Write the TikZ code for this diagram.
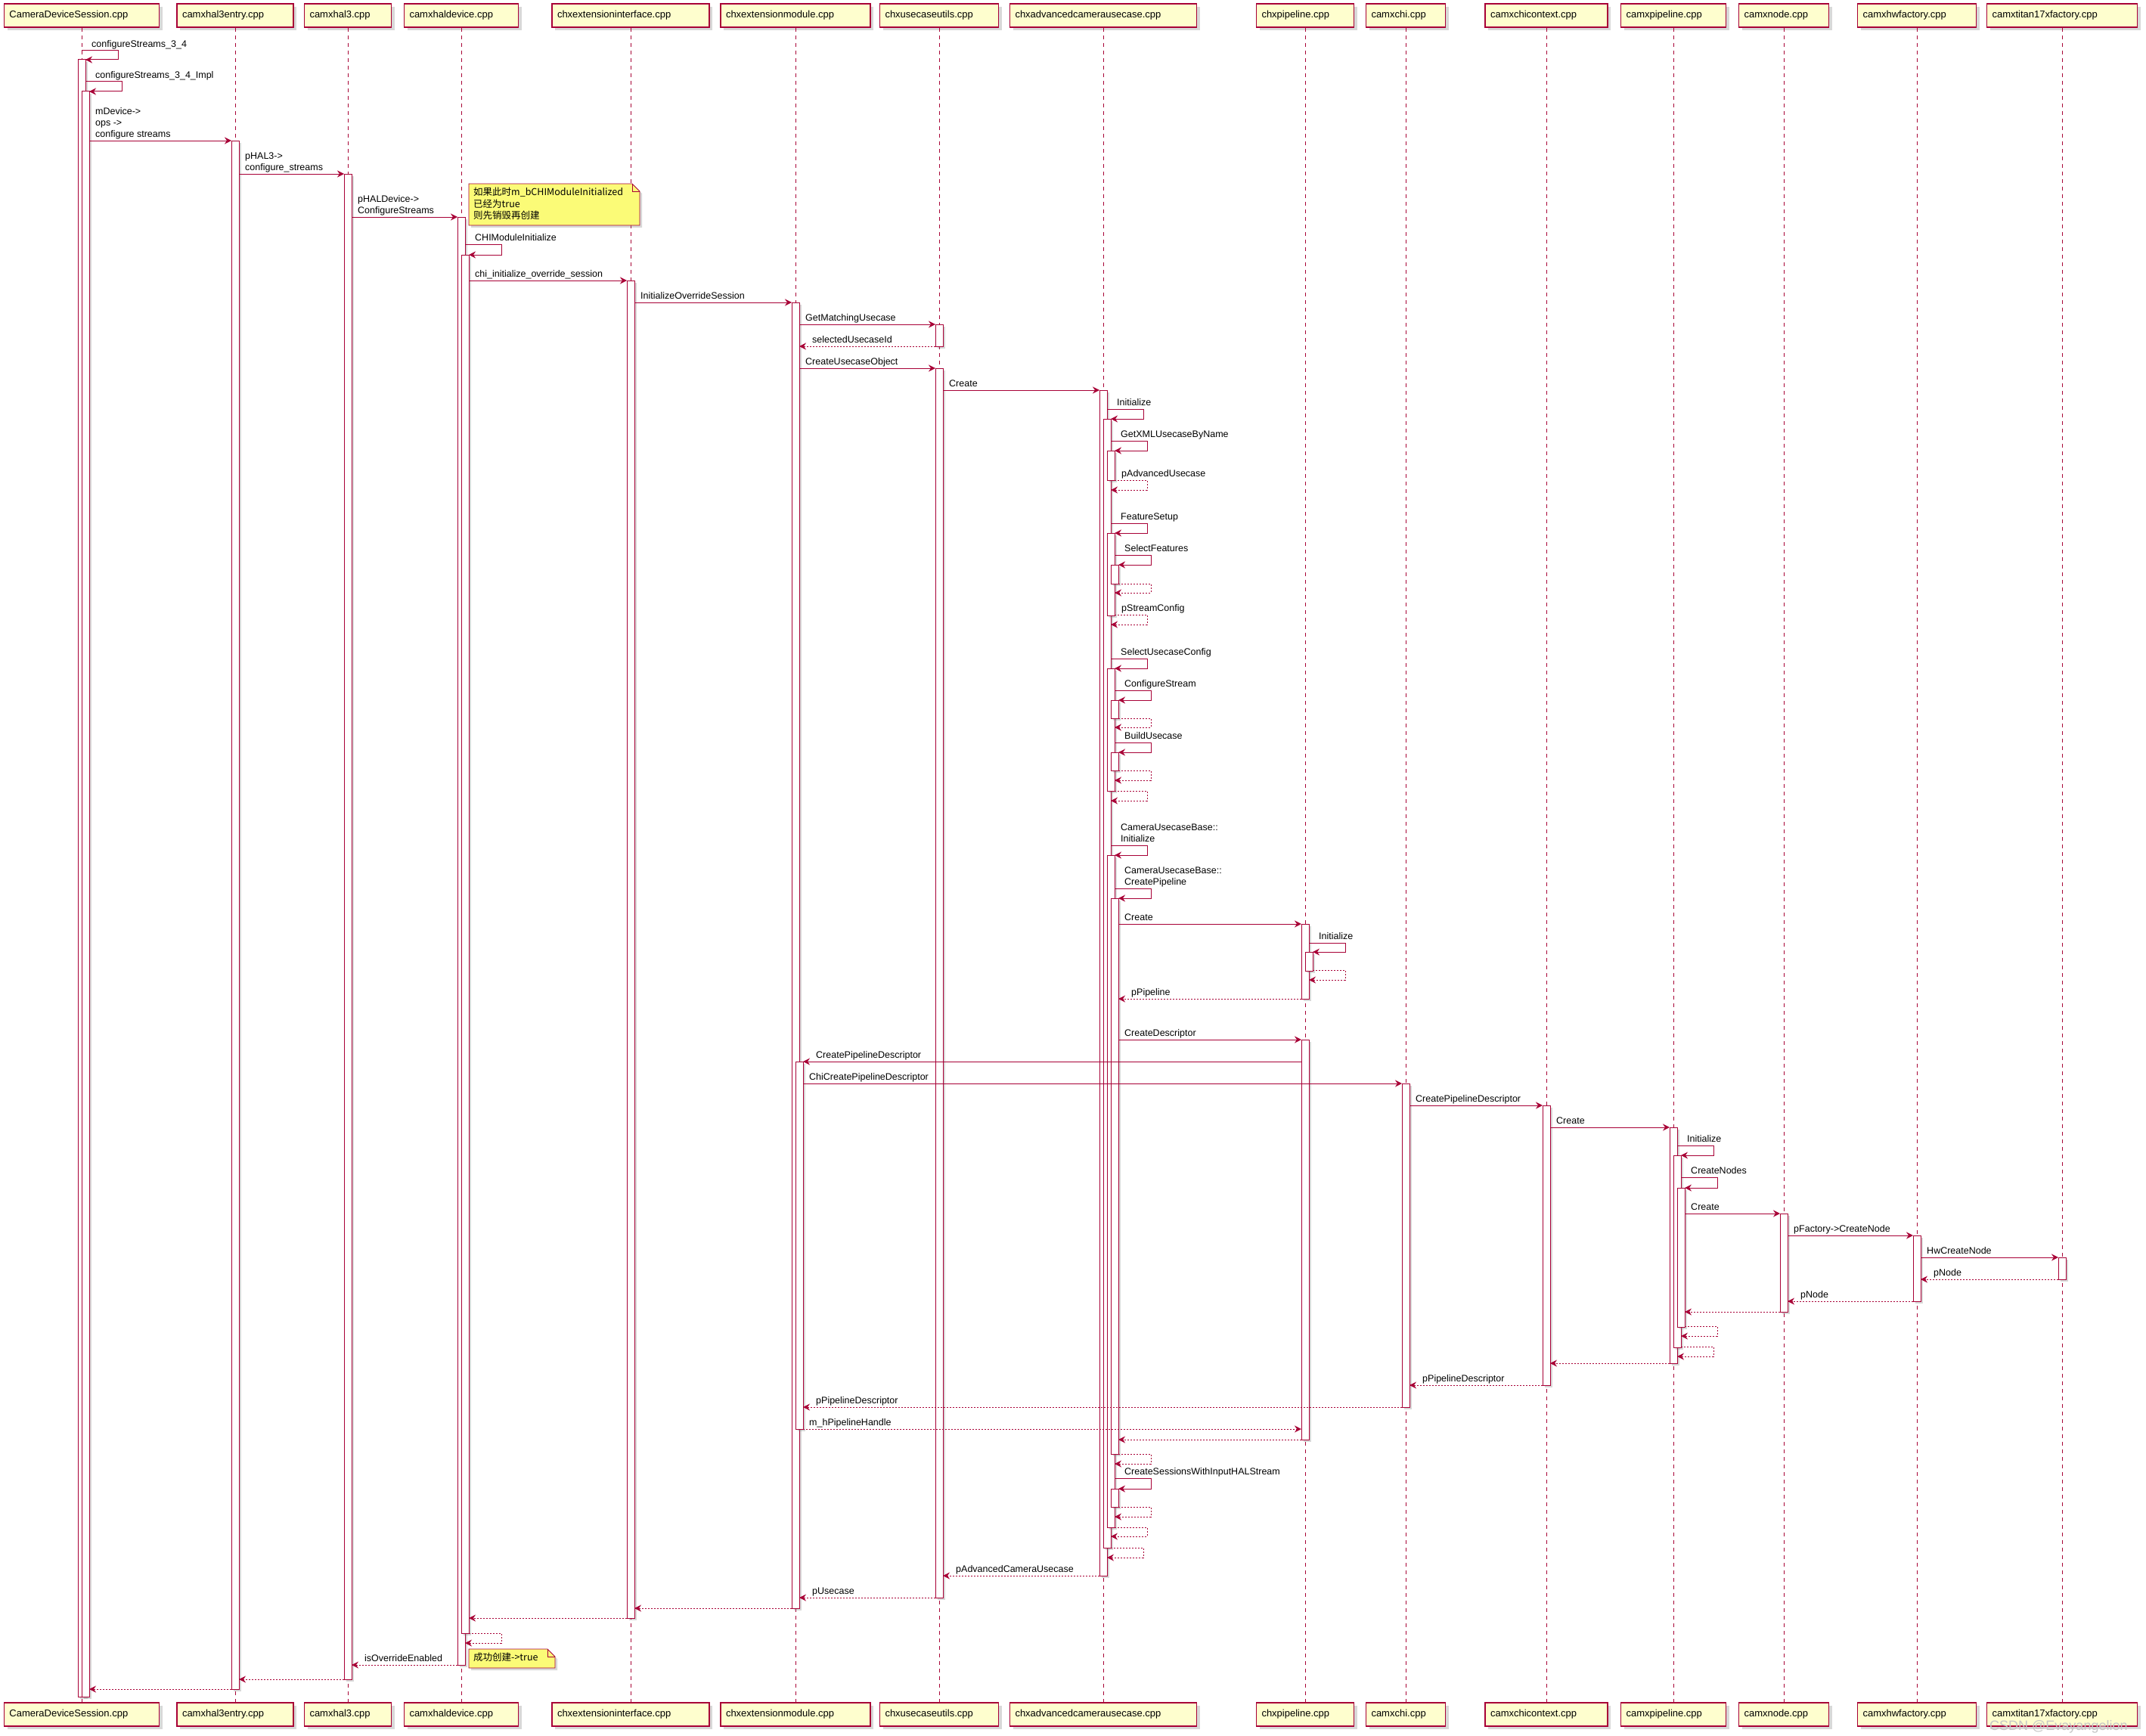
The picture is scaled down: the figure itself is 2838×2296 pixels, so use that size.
\documentclass[tikz,border=0pt]{standalone}
\usepackage{fontspec}
\setmainfont{Liberation Sans}
\newfontfamily\cjk{Noto Sans CJK SC}
\usepackage{tikz}
\usetikzlibrary{arrows.meta, calc, shadows, positioning}

\definecolor{umlred}{HTML}{A80036}
\definecolor{umlbox}{HTML}{FEFECE}
\definecolor{umlnote}{HTML}{FBFB77}

\tikzset{
  part/.style={draw=umlred, fill=umlbox, line width=1.5pt, minimum height=31pt,
    inner xsep=7pt, inner ysep=0pt, align=left, font=\fontsize{13}{15}\selectfont,
    drop shadow={shadow xshift=4pt, shadow yshift=-4pt, opacity=0.3}},
  lifeline/.style={draw=umlred, line width=0.8pt, dash pattern=on 5pt off 5pt},
  actbar/.style={draw=umlred, fill=white, line width=1pt,
    drop shadow={shadow xshift=3pt, shadow yshift=-3pt, opacity=0.3}},
  call/.style={draw=umlred, line width=1pt, -{Stealth[length=9pt, width=9pt, inset=3pt]}},
  ret/.style={call, dash pattern=on 2pt off 2pt},
  msglbl/.style={anchor=base west, inner sep=0pt, font=\fontsize{12.5}{15}\selectfont},
  notebg/.style={draw=umlred, fill=umlnote, line width=0.8pt,
    drop shadow={shadow xshift=3pt, shadow yshift=-3pt, opacity=0.3}},
  notetxt/.style={anchor=north west, inner sep=0pt, align=left, font=\cjk\fontsize{12.5}{15.5}\selectfont}
}

\newcounter{lblno}
\newcommand{\ml}[1]{\begin{tabular}[b]{@{}l@{}}#1\end{tabular}}
\newcommand{\msglabel}[2]{%
  \if\relax\detokenize{#2}\relax\else
    \stepcounter{lblno}%
    \node[msglbl] (lbl\arabic{lblno}) at (#1) {#2};%
  \fi}
% activation bar: lifeline, level, from, to
\newcommand{\act}[4]{%
  \draw[actbar] ($(#1 |- 0,#3)+({5*#2-10},0)$) rectangle ($(#1 |- 0,#4)+({5*#2},0)$);}
% message to the right / to the left
\newcommand{\msgR}[7][call]{%
  \draw[#1] ($(#3 |- 0,#2)+(#4,0)$) -- ($(#5 |- 0,#2)+(#6,0)$);
  \msglabel{$(#3 |- 0,#2)+(#4+8,-4.5)$}{#7}}
\newcommand{\msgL}[7][call]{%
  \draw[#1] ($(#3 |- 0,#2)+(#4,0)$) -- ($(#5 |- 0,#2)+(#6,0)$);
  \msglabel{$(#5 |- 0,#2)+(#6+17,-4.5)$}{#7}}
% self messages
\newcommand{\selfcall}[8][call]{%
  \draw[#1] ($(#2 |- 0,#3)+(#5,0)$) -| ($(#2 |- 0,#4)+(#6,0)$) -- ($(#2 |- 0,#4)+(#7,0)$);
  \msglabel{$(#2 |- 0,#3)+(#5+13,-4.5)$}{#8}}
\newcommand{\selfret}[8][ret]{%
  \draw[#1] ($(#2 |- 0,#3)+(#5,0)$) -| ($(#2 |- 0,#4)+(#6,0)$) -- ($(#2 |- 0,#4)+(#7,0)$);
  \msglabel{$(#2 |- 0,#3)+(#5+9,-4.5)$}{#8}}

\begin{document}
\begin{tikzpicture}[x=1pt, y=-1pt]
  \useasboundingbox (0,0) rectangle (2838,2296);
  \fill[white] (0,0) rectangle (2838,2296);

  \foreach \n/\x/\tw/\t in {
      cds/108/191/CameraDeviceSession.cpp,
      entry/311/140/camxhal3entry.cpp,
      hal/460/101/camxhal3.cpp,
      hdev/610/137/camxhaldevice.cpp,
      iface/834/194/chxextensioninterface.cpp,
      xmod/1052/184/chxextensionmodule.cpp,
      util/1242/143/chxusecaseutils.cpp,
      adv/1459/233/chxadvancedcamerausecase.cpp,
      cpipe/1726/115/chxpipeline.cpp,
      chi/1859/91/camxchi.cpp,
      cctx/2045/148/camxchicontext.cpp,
      xpipe/2213/125/camxpipeline.cpp,
      xnode/2359/105/camxnode.cpp,
      hwf/2535/143/camxhwfactory.cpp,
      titan/2727/185/camxtitan17xfactory.cpp} {
    \node[part, text width=\tw pt] (\n) at (\x,20.5) {\t};
    \node[part, text width=\tw pt] (\n-b) at (\x,2267.5) {\t};
    \draw[lifeline] (\n.south) -- (\n-b.north);
  }

  % activations
  \act{cds}{1}{79}{2244}
  \act{cds}{2}{121}{2244}
  \act{entry}{1}{186}{2234}
  \act{hal}{1}{230}{2221}
  \act{hdev}{1}{287}{2202}
  \act{hdev}{2}{337}{2160}
  \act{iface}{1}{371}{2140}
  \act{xmod}{1}{400}{2127}
  \act{xmod}{2}{1404}{1890}
  \act{util}{1}{429}{458}
  \act{util}{1}{487}{2113}
  \act{adv}{1}{516}{2084}
  \act{adv}{2}{554}{2047}
  \act{adv}{3}{596}{635}
  \act{adv}{3}{705}{814}
  \act{adv}{4}{747}{772}
  \act{adv}{3}{884}{1046}
  \act{adv}{4}{926}{950}
  \act{adv}{4}{995}{1019}
  \act{adv}{3}{1131}{2020}
  \act{adv}{4}{1188}{1923}
  \act{adv}{4}{1969}{1993}
  \act{cpipe}{1}{1222}{1321}
  \act{cpipe}{2}{1259}{1284}
  \act{cpipe}{1}{1375}{1904}
  \act{chi}{1}{1433}{1861}
  \act{cctx}{1}{1462}{1832}
  \act{xpipe}{1}{1491}{1803}
  \act{xpipe}{2}{1528}{1782}
  \act{xpipe}{3}{1571}{1755}
  \act{xnode}{1}{1605}{1735}
  \act{hwf}{1}{1634}{1721}
  \act{titan}{1}{1663}{1692}

  % messages
  \selfcall{cds}{67}{79}{0}{48}{5}{configureStreams\_3\_4}
  \selfcall{cds}{108}{121}{5}{53}{10}{configureStreams\_3\_4\_Impl}
  \msgR{186}{cds}{10}{entry}{-5}{\ml{mDevice->\\ops ->\\configure streams}}
  \msgR{230}{entry}{5}{hal}{-5}{\ml{pHAL3->\\configure\_streams}}
  \msgR{287}{hal}{5}{hdev}{-5}{\ml{pHALDevice->\\ConfigureStreams}}
  \selfcall{hdev}{323}{337}{5}{53}{10}{CHIModuleInitialize}
  \msgR{371}{hdev}{10}{iface}{-5}{chi\_initialize\_override\_session}
  \msgR{400}{iface}{5}{xmod}{-5}{InitializeOverrideSession}
  \msgR{429}{xmod}{5}{util}{-5}{GetMatchingUsecase}
  \msgL[ret]{458}{util}{-5}{xmod}{5}{selectedUsecaseId}
  \msgR{487}{xmod}{5}{util}{-5}{CreateUsecaseObject}
  \msgR{516}{util}{5}{adv}{-5}{Create}
  \selfcall{adv}{541}{554}{5}{53}{10}{Initialize}
  \selfcall{adv}{583}{596}{10}{58}{15}{GetXMLUsecaseByName}
  \selfret{adv}{635}{648}{15}{58}{10}{pAdvancedUsecase}
  \selfcall{adv}{692}{705}{10}{58}{15}{FeatureSetup}
  \selfcall{adv}{734}{747}{15}{63}{20}{SelectFeatures}
  \selfret{adv}{772}{784}{20}{63}{15}{}
  \selfret{adv}{813}{826}{15}{58}{10}{pStreamConfig}
  \selfcall{adv}{871}{884}{10}{58}{15}{SelectUsecaseConfig}
  \selfcall{adv}{913}{926}{15}{63}{20}{ConfigureStream}
  \selfret{adv}{950}{962}{20}{63}{15}{}
  \selfcall{adv}{982}{995}{15}{63}{20}{BuildUsecase}
  \selfret{adv}{1019}{1032}{20}{63}{15}{}
  \selfret{adv}{1046}{1059}{15}{58}{10}{}
  \selfcall{adv}{1118}{1131}{10}{58}{15}{\ml{CameraUsecaseBase::\\Initialize}}
  \selfcall{adv}{1175}{1188}{15}{63}{20}{\ml{CameraUsecaseBase::\\CreatePipeline}}
  \msgR{1222}{adv}{20}{cpipe}{-5}{Create}
  \selfcall{cpipe}{1247}{1259}{5}{53}{10}{Initialize}
  \selfret{cpipe}{1283}{1296}{10}{53}{5}{}
  \msgL[ret]{1321}{cpipe}{-5}{adv}{20}{pPipeline}
  \msgR{1375}{adv}{20}{cpipe}{-5}{CreateDescriptor}
  \msgL{1404}{cpipe}{-5}{xmod}{10}{CreatePipelineDescriptor}
  \msgR{1433}{xmod}{10}{chi}{-5}{ChiCreatePipelineDescriptor}
  \msgR{1462}{chi}{5}{cctx}{-5}{CreatePipelineDescriptor}
  \msgR{1491}{cctx}{5}{xpipe}{-5}{Create}
  \selfcall{xpipe}{1515}{1528}{5}{53}{10}{Initialize}
  \selfcall{xpipe}{1557}{1571}{10}{58}{15}{CreateNodes}
  \msgR{1605}{xpipe}{15}{xnode}{-5}{Create}
  \msgR{1634}{xnode}{5}{hwf}{-5}{pFactory->CreateNode}
  \msgR{1663}{hwf}{5}{titan}{-5}{HwCreateNode}
  \msgL[ret]{1692}{titan}{-5}{hwf}{5}{pNode}
  \msgL[ret]{1721}{hwf}{-5}{xnode}{5}{pNode}
  \msgL[ret]{1735}{xnode}{-5}{xpipe}{15}{}
  \selfret{xpipe}{1754}{1767}{15}{58}{10}{}
  \selfret{xpipe}{1781}{1794}{10}{53}{5}{}
  \msgL[ret]{1803}{xpipe}{-5}{cctx}{5}{}
  \msgL[ret]{1832}{cctx}{-5}{chi}{5}{pPipelineDescriptor}
  \msgL[ret]{1861}{chi}{-5}{xmod}{10}{pPipelineDescriptor}
  \msgR[ret]{1890}{xmod}{10}{cpipe}{-5}{m\_hPipelineHandle}
  \msgL[ret]{1904}{cpipe}{-5}{adv}{20}{}
  \selfret{adv}{1923}{1936}{20}{63}{15}{}
  \selfcall{adv}{1955}{1969}{15}{63}{20}{CreateSessionsWithInputHALStream}
  \selfret{adv}{1993}{2006}{20}{63}{15}{}
  \selfret{adv}{2020}{2032}{15}{58}{10}{}
  \selfret{adv}{2047}{2060}{10}{53}{5}{}
  \msgL[ret]{2084}{adv}{-5}{util}{5}{pAdvancedCameraUsecase}
  \msgL[ret]{2113}{util}{-5}{xmod}{5}{pUsecase}
  \msgL[ret]{2127}{xmod}{-5}{iface}{5}{}
  \msgL[ret]{2140}{iface}{-5}{hdev}{10}{}
  \selfret{hdev}{2160}{2173}{10}{53}{5}{}
  \msgL[ret]{2202}{hdev}{-5}{hal}{5}{isOverrideEnabled}
  \msgL[ret]{2221}{hal}{-5}{entry}{5}{}
  \msgL[ret]{2234}{entry}{-5}{cds}{10}{}

  % notes
  \filldraw[notebg] (620,243) -- (836,243) -- (846,253) -- (846,298) -- (620,298) -- cycle;
  \draw[umlred, line width=0.8pt] (836,243) -- (836,253) -- (846,253);
  \node[notetxt] (note1) at (626,248) {如果此时m\_bCHIModuleInitialized\\已经为true\\则先销毁再创建};
  \filldraw[notebg] (620,2181) -- (724,2181) -- (734,2191) -- (734,2206) -- (620,2206) -- cycle;
  \draw[umlred, line width=0.8pt] (724,2181) -- (724,2191) -- (734,2191);
  \node[notetxt] (note2) at (626,2186) {成功创建->true};

  \node[anchor=base west, inner sep=0pt, text=gray!45, font=\fontsize{18}{20}\selectfont] (mark) at (2631,2288) {CSDN @Evayangelion};
\end{tikzpicture}
\end{document}
